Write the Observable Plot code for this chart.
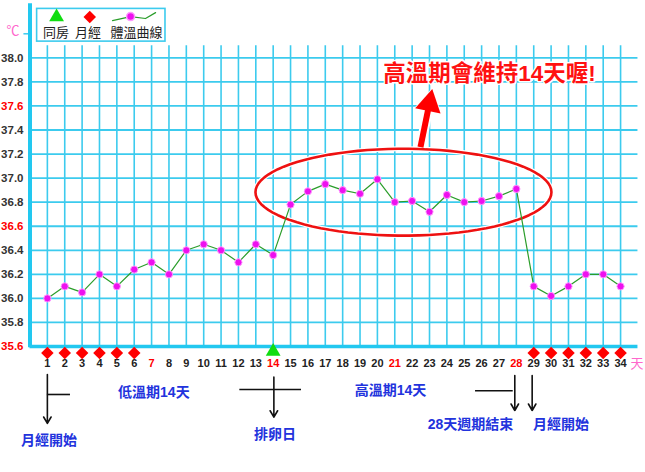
<!DOCTYPE html>
<html><head><meta charset="utf-8">
<script src="https://cdn.jsdelivr.net/npm/d3@7"></script>
<script src="https://cdn.jsdelivr.net/npm/@observablehq/plot@0.6"></script>
<style>html,body{margin:0;padding:0;background:#fff} svg{display:block}</style>
</head><body><div id="chart"></div>
<script>
// ---- data ----
const days = [1,2,3,4,5,6,7,8,9,10,11,12,13,14,15,16,17,18,19,20,21,22,23,24,25,26,27,28,29,30,31,32,33,34];
const temps = [36.00,36.10,36.05,36.20,36.10,36.24,36.30,36.20,36.40,36.45,36.40,36.30,36.45,36.36,
               36.78,36.89,36.95,36.90,36.87,36.99,36.80,36.81,36.72,36.86,36.80,36.81,36.85,36.91,
               36.10,36.02,36.10,36.20,36.20,36.10];
const mensesDays = [1,2,3,4,5,6,29,30,31,32,33,34];
const intercourseDays = [14];
const redDays = [7,14,21,28];
const yTicks = [35.6,35.8,36.0,36.2,36.4,36.6,36.8,37.0,37.2,37.4,37.6,37.8,38.0];
const redTicks = [35.6,36.6,37.6];
const yMin = 35.6, yMax = 38.2, xMax = 35;

const notes = [
  {label:"低溫期14天", x:7.13, y:35.215},
  {label:"高溫期14天", x:20.75, y:35.234},
  {label:"月經開始", x:1.1, y:34.82},
  {label:"排卵日", x:14.1, y:34.87},
  {label:"28天週期結束", x:25.36, y:34.95},
  {label:"月經開始", x:30.57, y:34.95}
];
const downArrows = [
  {x:1, y1:35.367, y2:34.96},
  {x:14.04, y1:35.345, y2:35.012},
  {x:27.91, y1:35.359, y2:35.068},
  {x:28.91, y1:35.359, y2:35.068}
];
const brackets = [
  {x1:1, x2:2.33, y:35.201},
  {x1:12.08, x2:15.63, y:35.243},
  {x1:25.65, x2:27.82, y:35.232}
];
const callout = [{label:"高溫期會維持14天喔!", x:26.46, y:37.869}];
const calloutShaft = [{x1:22.48, y1:37.257, x2:22.99, y2:37.62}];
const calloutHead = [{x:22.99, y:37.62}];
const ring = {cx:21.50, cy:36.883, rx:8.52, ry:0.361};
const ringPts = d3.range(0, 361, 4).map(a => ({
  x: ring.cx + ring.rx * Math.cos(a * Math.PI / 180),
  y: ring.cy + ring.ry * Math.sin(a * Math.PI / 180)
}));

const legendBox = [{x1:0.41, x2:7.8, y1:38.135, y2:38.407}];
const legendTri = [{x:1.53, y:38.34}];
const legendDia = [{x:3.44, y:38.34}];
const legendLine = [{x:4.75,y:38.31},{x:5.79,y:38.343},{x:6.65,y:38.327},{x:7.23,y:38.376}];
const legendDot = [{x:5.79, y:38.343}];
const legendLabels = [{label:"同房", x:1.5},{label:"月經", x:3.34},{label:"體溫曲線", x:6.13}];

const data = days.map((d,i) => ({day:d, temp:temps[i]}));
const grid = "#3ccbee";
const numFont = "'Liberation Sans', Arial, sans-serif";
const cjkFont = "'Liberation Sans', 'Noto Sans CJK TC', sans-serif";

const chart = Plot.plot({
  width: 645, height: 472,
  marginLeft: 29.5, marginRight: 7.55, marginTop: 33.3, marginBottom: 126,
  x: {domain:[0, xMax], axis:null},
  y: {domain:[yMin, yMax], axis:null},
  style: {background:"white", overflow:"visible"},
  marks: [
    // grid
    Plot.ruleY(yTicks.slice(1), {x1:0, x2:xMax, stroke:grid, strokeWidth:1.8}),
    Plot.ruleX(days, {y1:yMin, y2:38.1, stroke:grid, strokeWidth:1.6}),
    Plot.ruleY([yMax], {x1:-0.35, x2:0, stroke:grid, strokeWidth:1.5}),
    Plot.ruleY([yMin], {x1:0, x2:xMax, stroke:"#22c8f0", strokeWidth:3.5}),
    Plot.ruleX([0], {y1:yMin - 0.01, y2:38.45, stroke:"#22c8f0", strokeWidth:4}),
    // y labels
    Plot.text(yTicks.filter(t => !redTicks.includes(t)), {x:0, y:d=>d, text:d=>d.toFixed(1), textAnchor:"end", dx:-6.5, fill:"#333", fontWeight:"bold", fontSize:11.5, fontFamily:numFont}),
    Plot.text(redTicks, {x:0, y:d=>d, text:d=>d.toFixed(1), textAnchor:"end", dx:-6.5, fill:"#ff0000", fontWeight:"bold", fontSize:11.5, fontFamily:numFont}),
    Plot.text(["℃"], {x:0, y:yMax, text:d=>d, dx:-17, dy:-3, fill:"#ff66cc", fontSize:13, fontFamily:cjkFont}),
    // ellipse
    Plot.line(ringPts, {x:"x", y:"y", stroke:"white", strokeWidth:5, curve:"linear"}),
    Plot.line(ringPts, {x:"x", y:"y", stroke:"#ee1111", strokeWidth:2.6, curve:"linear"}),
    // temperature curve
    Plot.line(data, {x:"day", y:"temp", stroke:"#2a9d2a", strokeWidth:1.2}),
    Plot.dot(data, {x:"day", y:"temp", r:3.6, fill:"#ee11ee", stroke:"#ff99ff", strokeWidth:1}),
    // x labels & markers
    Plot.text(days.filter(d => !redDays.includes(d)), {x:d=>d, y:()=>yMin, dy:17, text:d=>String(d), fill:"#222", fontWeight:"bold", fontSize:11, fontFamily:numFont}),
    Plot.text(redDays, {x:d=>d, y:()=>yMin, dy:17, text:d=>String(d), fill:"#ff0000", fontWeight:"bold", fontSize:11, fontFamily:numFont}),
    Plot.dot(mensesDays, {x:d=>d, y:()=>yMin, dy:6.5, symbol:"square", rotate:45, r:5, fill:"#ff0000"}),
    Plot.dot(intercourseDays, {x:d=>d, y:()=>yMin, dy:5, symbol:"triangle", r:5.5, fill:"#11dd11"}),
    Plot.text(["天"], {x:xMax, y:yMin, text:d=>d, dx:-1, dy:17, fill:"#ff66cc", fontSize:13, fontFamily:cjkFont}),
    // below-axis annotations
    Plot.ruleY(brackets, {y:"y", x1:"x1", x2:"x2", stroke:"#111", strokeWidth:1.6}),
    Plot.arrow(downArrows, {x1:"x", x2:"x", y1:"y1", y2:"y2", stroke:"#111", strokeWidth:1.6, headLength:7, headAngle:60}),
    Plot.text(notes, {x:"x", y:"y", text:"label", fill:"#2233dd", fontSize:14, fontWeight:"bold", fontFamily:cjkFont}),
    // callout
    Plot.link(calloutShaft, {x1:"x1", y1:"y1", x2:"x2", y2:"y2", stroke:"white", strokeWidth:10}),
    Plot.dot(calloutHead, {x:"x", y:"y", symbol:"triangle", r:10.6, rotate:11.3, fill:"white"}),
    Plot.link(calloutShaft, {x1:"x1", y1:"y1", x2:"x2", y2:"y2", stroke:"#ff0000", strokeWidth:6}),
    Plot.dot(calloutHead, {x:"x", y:"y", symbol:"triangle", r:9.6, rotate:11.3, fill:"#ff0000"}),
    Plot.text(callout, {x:"x", y:"y", text:"label", fill:"#ff1111", stroke:"white", strokeWidth:3, fontSize:22.5, fontWeight:"bold", fontFamily:cjkFont}),
    // legend
    Plot.rect(legendBox, {x1:"x1", x2:"x2", y1:"y1", y2:"y2", fill:"white", stroke:grid, strokeWidth:1.6}),
    Plot.dot(legendTri, {x:"x", y:"y", symbol:"triangle", r:5.5, fill:"#11dd11"}),
    Plot.dot(legendDia, {x:"x", y:"y", symbol:"square", rotate:45, r:5, fill:"#ff0000"}),
    Plot.line(legendLine, {x:"x", y:"y", stroke:"#2a9d2a", strokeWidth:1.2}),
    Plot.dot(legendDot, {x:"x", y:"y", r:4, fill:"#ee11ee", stroke:"#ff99ff"}),
    Plot.text(legendLabels, {x:"x", y:()=>38.205, text:"label", fill:"#222", fontSize:13, fontFamily:cjkFont})
  ]
});
document.getElementById("chart").appendChild(chart);
</script>
</body></html>
